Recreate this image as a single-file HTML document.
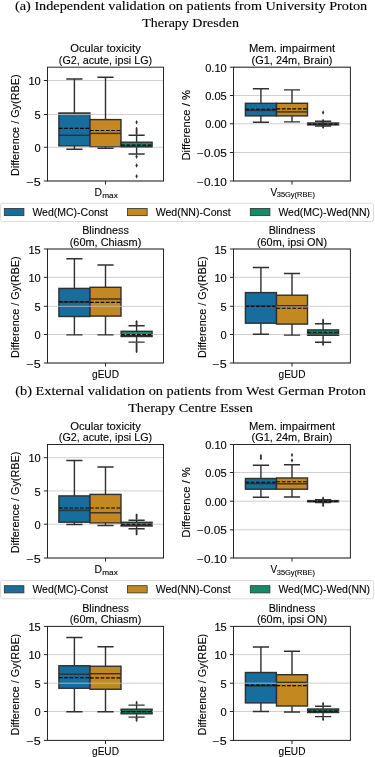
<!DOCTYPE html><html><head><meta charset="utf-8"><style>html,body{margin:0;padding:0;background:#fff;}svg{display:block;will-change:transform}</style></head><body>
<svg width="375" height="757" viewBox="0 0 375 757">
<rect width="375" height="757" fill="#fff"/>
<text x="191.1" y="9.7" font-size="13.4" text-anchor="middle" font-family="Liberation Serif, serif" textLength="352.11" lengthAdjust="spacingAndGlyphs" stroke="#000" stroke-width="0.12">(a) Independent validation on patients from University Proton</text>
<text x="190.6" y="26.8" font-size="13.4" text-anchor="middle" font-family="Liberation Serif, serif" textLength="96.66" lengthAdjust="spacingAndGlyphs" stroke="#000" stroke-width="0.12">Therapy Dresden</text>
<rect x="58.90" y="113.0" width="31.0" height="32.90" fill="#176d9c" stroke="#303030" stroke-width="1.4"/>
<rect x="90.00" y="119.6" width="31.0" height="27.20" fill="#c38820" stroke="#303030" stroke-width="1.4"/>
<rect x="121.10" y="142.2" width="31.0" height="5.00" fill="#158b6a" stroke="#303030" stroke-width="1.4"/>
<path d="M47.5 181.00H163.5" stroke="#c4c4c4" stroke-width="0.8"/>
<path d="M47.5 147.30H163.5" stroke="#c4c4c4" stroke-width="0.8"/>
<path d="M47.5 114.50H163.5" stroke="#c4c4c4" stroke-width="0.8"/>
<path d="M47.5 80.50H163.5" stroke="#c4c4c4" stroke-width="0.8"/>
<path d="M74.40 113.0V79M74.40 145.9V149.3" stroke="#303030" stroke-width="1.4" fill="none"/>
<path d="M66.30 79H82.50M66.30 149.3H82.50" stroke="#303030" stroke-width="1.4" fill="none"/>
<path d="M58.90 135.3H89.90" stroke="#303030" stroke-width="1.4"/>
<path d="M58.90 128.4H89.90" stroke="#000" stroke-width="1.1" stroke-dasharray="3.7 1.6"/>
<path d="M105.50 119.6V77.25M105.50 146.8V148.25" stroke="#303030" stroke-width="1.4" fill="none"/>
<path d="M97.40 77.25H113.60M97.40 148.25H113.60" stroke="#303030" stroke-width="1.4" fill="none"/>
<path d="M90.00 133.4H121.00" stroke="#303030" stroke-width="1.4"/>
<path d="M90.00 130.5H121.00" stroke="#000" stroke-width="1.1" stroke-dasharray="3.7 1.6"/>
<path d="M136.60 142.2V135.2M136.60 147.2V154" stroke="#303030" stroke-width="1.4" fill="none"/>
<path d="M128.50 135.2H144.70M128.50 154H144.70" stroke="#303030" stroke-width="1.4" fill="none"/>
<path d="M121.10 146.5H152.10" stroke="#303030" stroke-width="1.4"/>
<path d="M121.10 145.1H152.10" stroke="#000" stroke-width="1.1" stroke-dasharray="3.7 1.6"/>
<path d="M136.60 120.00L137.75 122.30L136.60 124.60L135.45 122.30Z" fill="#303030"/>
<path d="M136.60 126.70L137.50 127.90V133.90L136.60 135.10L135.70 133.90V127.90Z" fill="#303030"/>
<path d="M136.60 154.30L137.75 156.60L136.60 158.90L135.45 156.60Z" fill="#303030"/>
<path d="M136.60 163.10L137.75 165.40L136.60 167.70L135.45 165.40Z" fill="#303030"/>
<path d="M136.60 173.90L137.75 176.20L136.60 178.50L135.45 176.20Z" fill="#303030"/>
<rect x="47.5" y="67.2" width="116.00" height="113.80" fill="none" stroke="#262626" stroke-width="1"/>
<path d="M43.90 181.00H47.5" stroke="#262626" stroke-width="1"/>
<text x="40.80" y="185.60" font-size="10" text-anchor="end" font-family="Liberation Sans, sans-serif" stroke="#000" stroke-width="0.1" textLength="14.3" lengthAdjust="spacingAndGlyphs" >−5</text>
<path d="M43.90 147.30H47.5" stroke="#262626" stroke-width="1"/>
<text x="40.80" y="151.90" font-size="10" text-anchor="end" font-family="Liberation Sans, sans-serif" stroke="#000" stroke-width="0.1" textLength="6.17" lengthAdjust="spacingAndGlyphs" >0</text>
<path d="M43.90 114.50H47.5" stroke="#262626" stroke-width="1"/>
<text x="40.80" y="119.10" font-size="10" text-anchor="end" font-family="Liberation Sans, sans-serif" stroke="#000" stroke-width="0.1" textLength="6.17" lengthAdjust="spacingAndGlyphs" >5</text>
<path d="M43.90 80.50H47.5" stroke="#262626" stroke-width="1"/>
<text x="40.80" y="85.10" font-size="10" text-anchor="end" font-family="Liberation Sans, sans-serif" stroke="#000" stroke-width="0.1" textLength="12.34" lengthAdjust="spacingAndGlyphs" >10</text>
<path d="M105.50 181.0V184.60" stroke="#262626" stroke-width="1"/>
<text transform="translate(19.40 125.30) rotate(-90)" x="0" y="0" font-size="10" text-anchor="middle" font-family="Liberation Sans, sans-serif" stroke="#000" stroke-width="0.1" textLength="101.65" lengthAdjust="spacingAndGlyphs">Difference / Gy(RBE)</text>
<text x="105.50" y="52.40" font-size="10" text-anchor="middle" font-family="Liberation Sans, sans-serif" stroke="#000" stroke-width="0.1" textLength="70.57" lengthAdjust="spacingAndGlyphs" >Ocular toxicity</text>
<text x="105.50" y="64.00" font-size="10" text-anchor="middle" font-family="Liberation Sans, sans-serif" stroke="#000" stroke-width="0.1" textLength="93.39" lengthAdjust="spacingAndGlyphs" >(G2, acute, ipsi LG)</text>
<text x="94.60" y="196.1" font-size="10" font-family="Liberation Sans, sans-serif" stroke="#000" stroke-width="0.1" textLength="7.47" lengthAdjust="spacingAndGlyphs">D</text><text x="102.20" y="197.6" font-size="7" font-family="Liberation Sans, sans-serif" stroke="#000" stroke-width="0.1" textLength="15.59" lengthAdjust="spacingAndGlyphs">max</text>
<rect x="245.40" y="103.3" width="31.0" height="12.60" fill="#176d9c" stroke="#303030" stroke-width="1.4"/>
<rect x="276.50" y="103.3" width="31.0" height="12.60" fill="#c38820" stroke="#303030" stroke-width="1.4"/>
<rect x="307.60" y="123.0" width="31.0" height="1.90" fill="#158b6a" stroke="#303030" stroke-width="1.4"/>
<path d="M233.5 181.00H350.4" stroke="#c4c4c4" stroke-width="0.8"/>
<path d="M233.5 152.50H350.4" stroke="#c4c4c4" stroke-width="0.8"/>
<path d="M233.5 123.80H350.4" stroke="#c4c4c4" stroke-width="0.8"/>
<path d="M233.5 95.50H350.4" stroke="#c4c4c4" stroke-width="0.8"/>
<path d="M233.5 67.20H350.4" stroke="#c4c4c4" stroke-width="0.8"/>
<path d="M260.90 103.3V88.8M260.90 115.9V122.2" stroke="#303030" stroke-width="1.4" fill="none"/>
<path d="M252.80 88.8H269.00M252.80 122.2H269.00" stroke="#303030" stroke-width="1.4" fill="none"/>
<path d="M245.40 110.4H276.40" stroke="#303030" stroke-width="1.4"/>
<path d="M245.40 109.3H276.40" stroke="#000" stroke-width="1.1" stroke-dasharray="3.7 1.6"/>
<path d="M292.00 103.3V89.9M292.00 115.9V121.9" stroke="#303030" stroke-width="1.4" fill="none"/>
<path d="M283.90 89.9H300.10M283.90 121.9H300.10" stroke="#303030" stroke-width="1.4" fill="none"/>
<path d="M276.50 111.9H307.50" stroke="#303030" stroke-width="1.4"/>
<path d="M276.50 108.9H307.50" stroke="#000" stroke-width="1.1" stroke-dasharray="3.7 1.6"/>
<path d="M323.10 123.0V121.3M323.10 124.9V126.0" stroke="#303030" stroke-width="1.4" fill="none"/>
<path d="M315.00 121.3H331.20M315.00 126.0H331.20" stroke="#303030" stroke-width="1.4" fill="none"/>
<path d="M307.60 124.0H338.60" stroke="#303030" stroke-width="1.4"/>
<path d="M307.60 124.0H338.60" stroke="#000" stroke-width="1.1" stroke-dasharray="3.7 1.6"/>
<path d="M323.10 110.20L324.25 112.50L323.10 114.80L321.95 112.50Z" fill="#303030"/>
<path d="M323.10 118.80L324.00 120.00V127.80L323.10 129.00L322.20 127.80V120.00Z" fill="#303030"/>
<rect x="233.5" y="67.2" width="116.90" height="113.80" fill="none" stroke="#262626" stroke-width="1"/>
<path d="M229.90 181.00H233.5" stroke="#262626" stroke-width="1"/>
<text x="226.80" y="185.60" font-size="10" text-anchor="end" font-family="Liberation Sans, sans-serif" stroke="#000" stroke-width="0.1" textLength="29.73" lengthAdjust="spacingAndGlyphs" >−0.10</text>
<path d="M229.90 152.50H233.5" stroke="#262626" stroke-width="1"/>
<text x="226.80" y="157.10" font-size="10" text-anchor="end" font-family="Liberation Sans, sans-serif" stroke="#000" stroke-width="0.1" textLength="29.73" lengthAdjust="spacingAndGlyphs" >−0.05</text>
<path d="M229.90 123.80H233.5" stroke="#262626" stroke-width="1"/>
<text x="226.80" y="128.40" font-size="10" text-anchor="end" font-family="Liberation Sans, sans-serif" stroke="#000" stroke-width="0.1" textLength="21.6" lengthAdjust="spacingAndGlyphs" >0.00</text>
<path d="M229.90 95.50H233.5" stroke="#262626" stroke-width="1"/>
<text x="226.80" y="100.10" font-size="10" text-anchor="end" font-family="Liberation Sans, sans-serif" stroke="#000" stroke-width="0.1" textLength="21.6" lengthAdjust="spacingAndGlyphs" >0.05</text>
<path d="M229.90 67.20H233.5" stroke="#262626" stroke-width="1"/>
<text x="226.80" y="71.80" font-size="10" text-anchor="end" font-family="Liberation Sans, sans-serif" stroke="#000" stroke-width="0.1" textLength="21.6" lengthAdjust="spacingAndGlyphs" >0.10</text>
<path d="M292.00 181.0V184.60" stroke="#262626" stroke-width="1"/>
<text transform="translate(190.40 125.30) rotate(-90)" x="0" y="0" font-size="10" text-anchor="middle" font-family="Liberation Sans, sans-serif" stroke="#000" stroke-width="0.1" textLength="70.52" lengthAdjust="spacingAndGlyphs">Difference / %</text>
<text x="292.00" y="52.40" font-size="10" text-anchor="middle" font-family="Liberation Sans, sans-serif" stroke="#000" stroke-width="0.1" textLength="86.25" lengthAdjust="spacingAndGlyphs" >Mem. impairment</text>
<text x="292.00" y="64.00" font-size="10" text-anchor="middle" font-family="Liberation Sans, sans-serif" stroke="#000" stroke-width="0.1" textLength="80.81" lengthAdjust="spacingAndGlyphs" >(G1, 24m, Brain)</text>
<text x="270.40" y="195.9" font-size="10" font-family="Liberation Sans, sans-serif" stroke="#000" stroke-width="0.1" textLength="6.64" lengthAdjust="spacingAndGlyphs">V</text><text x="276.80" y="197.20000000000002" font-size="7" font-family="Liberation Sans, sans-serif" stroke="#000" stroke-width="0.1" textLength="38.08" lengthAdjust="spacingAndGlyphs">35Gy(RBE)</text>
<rect x="0.5" y="203.25" width="373" height="18.3" rx="2" ry="2" fill="#fff" stroke="#dcdcdc" stroke-width="1"/>
<rect x="4.30" y="208.45" width="19.6" height="7.2" fill="#176d9c" stroke="#303030" stroke-width="0.8"/>
<text x="32.4" y="215.75" font-size="10" text-anchor="start" font-family="Liberation Sans, sans-serif" stroke="#000" stroke-width="0.1" textLength="75.64" lengthAdjust="spacingAndGlyphs" >Wed(MC)-Const</text>
<rect x="127.55" y="208.45" width="19.6" height="7.2" fill="#c38820" stroke="#303030" stroke-width="0.8"/>
<text x="155.65" y="215.75" font-size="10" text-anchor="start" font-family="Liberation Sans, sans-serif" stroke="#000" stroke-width="0.1" textLength="75.01" lengthAdjust="spacingAndGlyphs" >Wed(NN)-Const</text>
<rect x="250.30" y="208.45" width="19.6" height="7.2" fill="#158b6a" stroke="#303030" stroke-width="0.8"/>
<text x="278.4" y="215.75" font-size="10" text-anchor="start" font-family="Liberation Sans, sans-serif" stroke="#000" stroke-width="0.1" textLength="91.72" lengthAdjust="spacingAndGlyphs" >Wed(MC)-Wed(NN)</text>
<rect x="58.90" y="288.4" width="31.0" height="28.10" fill="#176d9c" stroke="#303030" stroke-width="1.4"/>
<rect x="90.00" y="287.3" width="31.0" height="28.80" fill="#c38820" stroke="#303030" stroke-width="1.4"/>
<rect x="121.10" y="331.3" width="31.0" height="5.20" fill="#158b6a" stroke="#303030" stroke-width="1.4"/>
<path d="M47.5 363.00H163.5" stroke="#c4c4c4" stroke-width="0.8"/>
<path d="M47.5 334.50H163.5" stroke="#c4c4c4" stroke-width="0.8"/>
<path d="M47.5 306.30H163.5" stroke="#c4c4c4" stroke-width="0.8"/>
<path d="M47.5 277.30H163.5" stroke="#c4c4c4" stroke-width="0.8"/>
<path d="M47.5 249.00H163.5" stroke="#c4c4c4" stroke-width="0.8"/>
<path d="M74.40 288.4V258.75M74.40 316.5V334.9" stroke="#303030" stroke-width="1.4" fill="none"/>
<path d="M66.30 258.75H82.50M66.30 334.9H82.50" stroke="#303030" stroke-width="1.4" fill="none"/>
<path d="M58.90 302.2H89.90" stroke="#303030" stroke-width="1.4"/>
<path d="M58.90 301.8H89.90" stroke="#000" stroke-width="1.1" stroke-dasharray="3.7 1.6"/>
<path d="M105.50 287.3V265M105.50 316.1V334.9" stroke="#303030" stroke-width="1.4" fill="none"/>
<path d="M97.40 265H113.60M97.40 334.9H113.60" stroke="#303030" stroke-width="1.4" fill="none"/>
<path d="M90.00 299.0H121.00" stroke="#303030" stroke-width="1.4"/>
<path d="M90.00 302.4H121.00" stroke="#000" stroke-width="1.1" stroke-dasharray="3.7 1.6"/>
<path d="M136.60 331.3V325.7M136.60 336.5V342.1" stroke="#303030" stroke-width="1.4" fill="none"/>
<path d="M128.50 325.7H144.70M128.50 342.1H144.70" stroke="#303030" stroke-width="1.4" fill="none"/>
<path d="M121.10 335.6H152.10" stroke="#303030" stroke-width="1.4"/>
<path d="M121.10 334.6H152.10" stroke="#000" stroke-width="1.1" stroke-dasharray="3.7 1.6"/>
<path d="M136.60 320.10L137.50 321.30V324.60L136.60 325.80L135.70 324.60V321.30Z" fill="#303030"/>
<path d="M136.60 342.20L137.50 343.40V352.10L136.60 353.30L135.70 352.10V343.40Z" fill="#303030"/>
<rect x="47.5" y="249.0" width="116.00" height="114.00" fill="none" stroke="#262626" stroke-width="1"/>
<path d="M43.90 363.00H47.5" stroke="#262626" stroke-width="1"/>
<text x="40.80" y="367.60" font-size="10" text-anchor="end" font-family="Liberation Sans, sans-serif" stroke="#000" stroke-width="0.1" textLength="14.3" lengthAdjust="spacingAndGlyphs" >−5</text>
<path d="M43.90 334.50H47.5" stroke="#262626" stroke-width="1"/>
<text x="40.80" y="339.10" font-size="10" text-anchor="end" font-family="Liberation Sans, sans-serif" stroke="#000" stroke-width="0.1" textLength="6.17" lengthAdjust="spacingAndGlyphs" >0</text>
<path d="M43.90 306.30H47.5" stroke="#262626" stroke-width="1"/>
<text x="40.80" y="310.90" font-size="10" text-anchor="end" font-family="Liberation Sans, sans-serif" stroke="#000" stroke-width="0.1" textLength="6.17" lengthAdjust="spacingAndGlyphs" >5</text>
<path d="M43.90 277.30H47.5" stroke="#262626" stroke-width="1"/>
<text x="40.80" y="281.90" font-size="10" text-anchor="end" font-family="Liberation Sans, sans-serif" stroke="#000" stroke-width="0.1" textLength="12.34" lengthAdjust="spacingAndGlyphs" >10</text>
<path d="M43.90 249.00H47.5" stroke="#262626" stroke-width="1"/>
<text x="40.80" y="253.60" font-size="10" text-anchor="end" font-family="Liberation Sans, sans-serif" stroke="#000" stroke-width="0.1" textLength="12.34" lengthAdjust="spacingAndGlyphs" >15</text>
<path d="M105.50 363.0V366.60" stroke="#262626" stroke-width="1"/>
<text transform="translate(19.40 307.20) rotate(-90)" x="0" y="0" font-size="10" text-anchor="middle" font-family="Liberation Sans, sans-serif" stroke="#000" stroke-width="0.1" textLength="101.65" lengthAdjust="spacingAndGlyphs">Difference / Gy(RBE)</text>
<text x="105.50" y="234.20" font-size="10" text-anchor="middle" font-family="Liberation Sans, sans-serif" stroke="#000" stroke-width="0.1" textLength="46.57" lengthAdjust="spacingAndGlyphs" >Blindness</text>
<text x="105.50" y="245.80" font-size="10" text-anchor="middle" font-family="Liberation Sans, sans-serif" stroke="#000" stroke-width="0.1" textLength="71.59" lengthAdjust="spacingAndGlyphs" >(60m, Chiasm)</text>
<text x="105.50" y="377.8" font-size="10" text-anchor="middle" font-family="Liberation Sans, sans-serif" stroke="#000" stroke-width="0.1" textLength="26.85" lengthAdjust="spacingAndGlyphs">gEUD</text>
<rect x="245.40" y="292.6" width="31.0" height="30.60" fill="#176d9c" stroke="#303030" stroke-width="1.4"/>
<rect x="276.50" y="295.2" width="31.0" height="28.90" fill="#c38820" stroke="#303030" stroke-width="1.4"/>
<rect x="307.60" y="329.9" width="31.0" height="5.40" fill="#158b6a" stroke="#303030" stroke-width="1.4"/>
<path d="M233.5 363.00H350.4" stroke="#c4c4c4" stroke-width="0.8"/>
<path d="M233.5 334.50H350.4" stroke="#c4c4c4" stroke-width="0.8"/>
<path d="M233.5 306.30H350.4" stroke="#c4c4c4" stroke-width="0.8"/>
<path d="M233.5 277.30H350.4" stroke="#c4c4c4" stroke-width="0.8"/>
<path d="M233.5 249.00H350.4" stroke="#c4c4c4" stroke-width="0.8"/>
<path d="M260.90 292.6V267.5M260.90 323.2V334.2" stroke="#303030" stroke-width="1.4" fill="none"/>
<path d="M252.80 267.5H269.00M252.80 334.2H269.00" stroke="#303030" stroke-width="1.4" fill="none"/>
<path d="M245.40 306.0H276.40" stroke="#303030" stroke-width="1.4"/>
<path d="M245.40 306.2H276.40" stroke="#000" stroke-width="1.1" stroke-dasharray="3.7 1.6"/>
<path d="M292.00 295.2V273.5M292.00 324.1V335.1" stroke="#303030" stroke-width="1.4" fill="none"/>
<path d="M283.90 273.5H300.10M283.90 335.1H300.10" stroke="#303030" stroke-width="1.4" fill="none"/>
<path d="M276.50 305.7H307.50" stroke="#303030" stroke-width="1.4"/>
<path d="M276.50 308.3H307.50" stroke="#000" stroke-width="1.1" stroke-dasharray="3.7 1.6"/>
<path d="M323.10 329.9V323.7M323.10 335.3V342.2" stroke="#303030" stroke-width="1.4" fill="none"/>
<path d="M315.00 323.7H331.20M315.00 342.2H331.20" stroke="#303030" stroke-width="1.4" fill="none"/>
<path d="M307.60 334.0H338.60" stroke="#303030" stroke-width="1.4"/>
<path d="M307.60 332.2H338.60" stroke="#000" stroke-width="1.1" stroke-dasharray="3.7 1.6"/>
<path d="M323.10 318.40L324.00 319.60V322.60L323.10 323.80L322.20 322.60V319.60Z" fill="#303030"/>
<path d="M323.10 341.70L324.25 344.00L323.10 346.30L321.95 344.00Z" fill="#303030"/>
<rect x="233.5" y="249.0" width="116.90" height="114.00" fill="none" stroke="#262626" stroke-width="1"/>
<path d="M229.90 363.00H233.5" stroke="#262626" stroke-width="1"/>
<text x="226.80" y="367.60" font-size="10" text-anchor="end" font-family="Liberation Sans, sans-serif" stroke="#000" stroke-width="0.1" textLength="14.3" lengthAdjust="spacingAndGlyphs" >−5</text>
<path d="M229.90 334.50H233.5" stroke="#262626" stroke-width="1"/>
<text x="226.80" y="339.10" font-size="10" text-anchor="end" font-family="Liberation Sans, sans-serif" stroke="#000" stroke-width="0.1" textLength="6.17" lengthAdjust="spacingAndGlyphs" >0</text>
<path d="M229.90 306.30H233.5" stroke="#262626" stroke-width="1"/>
<text x="226.80" y="310.90" font-size="10" text-anchor="end" font-family="Liberation Sans, sans-serif" stroke="#000" stroke-width="0.1" textLength="6.17" lengthAdjust="spacingAndGlyphs" >5</text>
<path d="M229.90 277.30H233.5" stroke="#262626" stroke-width="1"/>
<text x="226.80" y="281.90" font-size="10" text-anchor="end" font-family="Liberation Sans, sans-serif" stroke="#000" stroke-width="0.1" textLength="12.34" lengthAdjust="spacingAndGlyphs" >10</text>
<path d="M229.90 249.00H233.5" stroke="#262626" stroke-width="1"/>
<text x="226.80" y="253.60" font-size="10" text-anchor="end" font-family="Liberation Sans, sans-serif" stroke="#000" stroke-width="0.1" textLength="12.34" lengthAdjust="spacingAndGlyphs" >15</text>
<path d="M292.00 363.0V366.60" stroke="#262626" stroke-width="1"/>
<text transform="translate(205.90 307.20) rotate(-90)" x="0" y="0" font-size="10" text-anchor="middle" font-family="Liberation Sans, sans-serif" stroke="#000" stroke-width="0.1" textLength="101.65" lengthAdjust="spacingAndGlyphs">Difference / Gy(RBE)</text>
<text x="292.00" y="234.20" font-size="10" text-anchor="middle" font-family="Liberation Sans, sans-serif" stroke="#000" stroke-width="0.1" textLength="46.57" lengthAdjust="spacingAndGlyphs" >Blindness</text>
<text x="292.00" y="245.80" font-size="10" text-anchor="middle" font-family="Liberation Sans, sans-serif" stroke="#000" stroke-width="0.1" textLength="70.1" lengthAdjust="spacingAndGlyphs" >(60m, ipsi ON)</text>
<text x="292.00" y="377.8" font-size="10" text-anchor="middle" font-family="Liberation Sans, sans-serif" stroke="#000" stroke-width="0.1" textLength="26.85" lengthAdjust="spacingAndGlyphs">gEUD</text>
<text x="190.6" y="394.6" font-size="13.4" text-anchor="middle" font-family="Liberation Serif, serif" textLength="350.69" lengthAdjust="spacingAndGlyphs" stroke="#000" stroke-width="0.12">(b) External validation on patients from West German Proton</text>
<text x="190.6" y="411.9" font-size="13.4" text-anchor="middle" font-family="Liberation Serif, serif" textLength="124.69" lengthAdjust="spacingAndGlyphs" stroke="#000" stroke-width="0.12">Therapy Centre Essen</text>
<rect x="58.90" y="495.9" width="31.0" height="26.30" fill="#176d9c" stroke="#303030" stroke-width="1.4"/>
<rect x="90.00" y="494.4" width="31.0" height="28.60" fill="#c38820" stroke="#303030" stroke-width="1.4"/>
<rect x="121.10" y="522.3" width="31.0" height="3.70" fill="#158b6a" stroke="#303030" stroke-width="1.4"/>
<path d="M47.5 558.00H163.5" stroke="#c4c4c4" stroke-width="0.8"/>
<path d="M47.5 524.20H163.5" stroke="#c4c4c4" stroke-width="0.8"/>
<path d="M47.5 490.90H163.5" stroke="#c4c4c4" stroke-width="0.8"/>
<path d="M47.5 457.70H163.5" stroke="#c4c4c4" stroke-width="0.8"/>
<path d="M74.40 495.9V460.5M74.40 522.2V524.5" stroke="#303030" stroke-width="1.4" fill="none"/>
<path d="M66.30 460.5H82.50M66.30 524.5H82.50" stroke="#303030" stroke-width="1.4" fill="none"/>
<path d="M58.90 510.4H89.90" stroke="#303030" stroke-width="1.4"/>
<path d="M58.90 508.0H89.90" stroke="#000" stroke-width="1.1" stroke-dasharray="3.7 1.6"/>
<path d="M105.50 494.4V467M105.50 523.0V525.5" stroke="#303030" stroke-width="1.4" fill="none"/>
<path d="M97.40 467H113.60M97.40 525.5H113.60" stroke="#303030" stroke-width="1.4" fill="none"/>
<path d="M90.00 512.8H121.00" stroke="#303030" stroke-width="1.4"/>
<path d="M90.00 508.0H121.00" stroke="#000" stroke-width="1.1" stroke-dasharray="3.7 1.6"/>
<path d="M136.60 522.3V520.3M136.60 526V528.7" stroke="#303030" stroke-width="1.4" fill="none"/>
<path d="M128.50 520.3H144.70M128.50 528.7H144.70" stroke="#303030" stroke-width="1.4" fill="none"/>
<path d="M121.10 525.2H152.10" stroke="#303030" stroke-width="1.4"/>
<path d="M121.10 524.3H152.10" stroke="#000" stroke-width="1.1" stroke-dasharray="3.7 1.6"/>
<path d="M136.60 513.40L137.50 514.60V518.90L136.60 520.10L135.70 518.90V514.60Z" fill="#303030"/>
<path d="M136.60 528.70L137.50 529.90V534.40L136.60 535.60L135.70 534.40V529.90Z" fill="#303030"/>
<rect x="47.5" y="444.5" width="116.00" height="113.50" fill="none" stroke="#262626" stroke-width="1"/>
<path d="M43.90 558.00H47.5" stroke="#262626" stroke-width="1"/>
<text x="40.80" y="562.60" font-size="10" text-anchor="end" font-family="Liberation Sans, sans-serif" stroke="#000" stroke-width="0.1" textLength="14.3" lengthAdjust="spacingAndGlyphs" >−5</text>
<path d="M43.90 524.20H47.5" stroke="#262626" stroke-width="1"/>
<text x="40.80" y="528.80" font-size="10" text-anchor="end" font-family="Liberation Sans, sans-serif" stroke="#000" stroke-width="0.1" textLength="6.17" lengthAdjust="spacingAndGlyphs" >0</text>
<path d="M43.90 490.90H47.5" stroke="#262626" stroke-width="1"/>
<text x="40.80" y="495.50" font-size="10" text-anchor="end" font-family="Liberation Sans, sans-serif" stroke="#000" stroke-width="0.1" textLength="6.17" lengthAdjust="spacingAndGlyphs" >5</text>
<path d="M43.90 457.70H47.5" stroke="#262626" stroke-width="1"/>
<text x="40.80" y="462.30" font-size="10" text-anchor="end" font-family="Liberation Sans, sans-serif" stroke="#000" stroke-width="0.1" textLength="12.34" lengthAdjust="spacingAndGlyphs" >10</text>
<path d="M105.50 558.0V561.60" stroke="#262626" stroke-width="1"/>
<text transform="translate(19.40 502.45) rotate(-90)" x="0" y="0" font-size="10" text-anchor="middle" font-family="Liberation Sans, sans-serif" stroke="#000" stroke-width="0.1" textLength="101.65" lengthAdjust="spacingAndGlyphs">Difference / Gy(RBE)</text>
<text x="105.50" y="429.70" font-size="10" text-anchor="middle" font-family="Liberation Sans, sans-serif" stroke="#000" stroke-width="0.1" textLength="70.57" lengthAdjust="spacingAndGlyphs" >Ocular toxicity</text>
<text x="105.50" y="441.30" font-size="10" text-anchor="middle" font-family="Liberation Sans, sans-serif" stroke="#000" stroke-width="0.1" textLength="93.39" lengthAdjust="spacingAndGlyphs" >(G2, acute, ipsi LG)</text>
<text x="94.60" y="573.4" font-size="10" font-family="Liberation Sans, sans-serif" stroke="#000" stroke-width="0.1" textLength="7.47" lengthAdjust="spacingAndGlyphs">D</text><text x="102.20" y="574.9" font-size="7" font-family="Liberation Sans, sans-serif" stroke="#000" stroke-width="0.1" textLength="15.59" lengthAdjust="spacingAndGlyphs">max</text>
<rect x="245.40" y="478.5" width="31.0" height="10.70" fill="#176d9c" stroke="#303030" stroke-width="1.4"/>
<rect x="276.50" y="478.0" width="31.0" height="11.20" fill="#c38820" stroke="#303030" stroke-width="1.4"/>
<rect x="307.60" y="500.6" width="31.0" height="1.20" fill="#158b6a" stroke="#303030" stroke-width="1.4"/>
<path d="M233.5 558.00H350.4" stroke="#c4c4c4" stroke-width="0.8"/>
<path d="M233.5 529.80H350.4" stroke="#c4c4c4" stroke-width="0.8"/>
<path d="M233.5 501.20H350.4" stroke="#c4c4c4" stroke-width="0.8"/>
<path d="M233.5 472.50H350.4" stroke="#c4c4c4" stroke-width="0.8"/>
<path d="M233.5 444.50H350.4" stroke="#c4c4c4" stroke-width="0.8"/>
<path d="M260.90 478.5V465.2M260.90 489.2V497.2" stroke="#303030" stroke-width="1.4" fill="none"/>
<path d="M252.80 465.2H269.00M252.80 497.2H269.00" stroke="#303030" stroke-width="1.4" fill="none"/>
<path d="M245.40 483.6H276.40" stroke="#303030" stroke-width="1.4"/>
<path d="M245.40 482.3H276.40" stroke="#000" stroke-width="1.1" stroke-dasharray="3.7 1.6"/>
<path d="M260.90 453.70L262.05 456.00L260.90 458.30L259.75 456.00Z" fill="#303030"/>
<path d="M260.90 455.90L262.05 458.20L260.90 460.50L259.75 458.20Z" fill="#303030"/>
<path d="M292.00 478.0V464.7M292.00 489.2V497" stroke="#303030" stroke-width="1.4" fill="none"/>
<path d="M283.90 464.7H300.10M283.90 497H300.10" stroke="#303030" stroke-width="1.4" fill="none"/>
<path d="M276.50 483.8H307.50" stroke="#303030" stroke-width="1.4"/>
<path d="M276.50 481.8H307.50" stroke="#000" stroke-width="1.1" stroke-dasharray="3.7 1.6"/>
<path d="M292.00 452.70L293.15 455.00L292.00 457.30L290.85 455.00Z" fill="#303030"/>
<path d="M292.00 458.10L293.15 460.40L292.00 462.70L290.85 460.40Z" fill="#303030"/>
<path d="M323.10 500.6V499.8M323.10 501.8V502.6" stroke="#303030" stroke-width="1.4" fill="none"/>
<path d="M315.00 499.8H331.20M315.00 502.6H331.20" stroke="#303030" stroke-width="1.4" fill="none"/>
<path d="M307.60 501.2H338.60" stroke="#303030" stroke-width="1.4"/>
<path d="M307.60 501.2H338.60" stroke="#000" stroke-width="1.1" stroke-dasharray="3.7 1.6"/>
<path d="M323.10 496.40L324.00 497.60V506.10L323.10 507.30L322.20 506.10V497.60Z" fill="#303030"/>
<rect x="233.5" y="444.5" width="116.90" height="113.50" fill="none" stroke="#262626" stroke-width="1"/>
<path d="M229.90 558.00H233.5" stroke="#262626" stroke-width="1"/>
<text x="226.80" y="562.60" font-size="10" text-anchor="end" font-family="Liberation Sans, sans-serif" stroke="#000" stroke-width="0.1" textLength="29.73" lengthAdjust="spacingAndGlyphs" >−0.10</text>
<path d="M229.90 529.80H233.5" stroke="#262626" stroke-width="1"/>
<text x="226.80" y="534.40" font-size="10" text-anchor="end" font-family="Liberation Sans, sans-serif" stroke="#000" stroke-width="0.1" textLength="29.73" lengthAdjust="spacingAndGlyphs" >−0.05</text>
<path d="M229.90 501.20H233.5" stroke="#262626" stroke-width="1"/>
<text x="226.80" y="505.80" font-size="10" text-anchor="end" font-family="Liberation Sans, sans-serif" stroke="#000" stroke-width="0.1" textLength="21.6" lengthAdjust="spacingAndGlyphs" >0.00</text>
<path d="M229.90 472.50H233.5" stroke="#262626" stroke-width="1"/>
<text x="226.80" y="477.10" font-size="10" text-anchor="end" font-family="Liberation Sans, sans-serif" stroke="#000" stroke-width="0.1" textLength="21.6" lengthAdjust="spacingAndGlyphs" >0.05</text>
<path d="M229.90 444.50H233.5" stroke="#262626" stroke-width="1"/>
<text x="226.80" y="449.10" font-size="10" text-anchor="end" font-family="Liberation Sans, sans-serif" stroke="#000" stroke-width="0.1" textLength="21.6" lengthAdjust="spacingAndGlyphs" >0.10</text>
<path d="M292.00 558.0V561.60" stroke="#262626" stroke-width="1"/>
<text transform="translate(190.40 502.45) rotate(-90)" x="0" y="0" font-size="10" text-anchor="middle" font-family="Liberation Sans, sans-serif" stroke="#000" stroke-width="0.1" textLength="70.52" lengthAdjust="spacingAndGlyphs">Difference / %</text>
<text x="292.00" y="429.70" font-size="10" text-anchor="middle" font-family="Liberation Sans, sans-serif" stroke="#000" stroke-width="0.1" textLength="86.25" lengthAdjust="spacingAndGlyphs" >Mem. impairment</text>
<text x="292.00" y="441.30" font-size="10" text-anchor="middle" font-family="Liberation Sans, sans-serif" stroke="#000" stroke-width="0.1" textLength="80.81" lengthAdjust="spacingAndGlyphs" >(G1, 24m, Brain)</text>
<text x="270.40" y="573.2" font-size="10" font-family="Liberation Sans, sans-serif" stroke="#000" stroke-width="0.1" textLength="6.64" lengthAdjust="spacingAndGlyphs">V</text><text x="276.80" y="574.5" font-size="7" font-family="Liberation Sans, sans-serif" stroke="#000" stroke-width="0.1" textLength="38.08" lengthAdjust="spacingAndGlyphs">35Gy(RBE)</text>
<rect x="0.5" y="580.5" width="373" height="18.3" rx="2" ry="2" fill="#fff" stroke="#dcdcdc" stroke-width="1"/>
<rect x="4.30" y="585.70" width="19.6" height="7.2" fill="#176d9c" stroke="#303030" stroke-width="0.8"/>
<text x="32.4" y="593.0" font-size="10" text-anchor="start" font-family="Liberation Sans, sans-serif" stroke="#000" stroke-width="0.1" textLength="75.64" lengthAdjust="spacingAndGlyphs" >Wed(MC)-Const</text>
<rect x="127.55" y="585.70" width="19.6" height="7.2" fill="#c38820" stroke="#303030" stroke-width="0.8"/>
<text x="155.65" y="593.0" font-size="10" text-anchor="start" font-family="Liberation Sans, sans-serif" stroke="#000" stroke-width="0.1" textLength="75.01" lengthAdjust="spacingAndGlyphs" >Wed(NN)-Const</text>
<rect x="250.30" y="585.70" width="19.6" height="7.2" fill="#158b6a" stroke="#303030" stroke-width="0.8"/>
<text x="278.4" y="593.0" font-size="10" text-anchor="start" font-family="Liberation Sans, sans-serif" stroke="#000" stroke-width="0.1" textLength="91.72" lengthAdjust="spacingAndGlyphs" >Wed(MC)-Wed(NN)</text>
<rect x="58.90" y="665.75" width="31.0" height="22.50" fill="#176d9c" stroke="#303030" stroke-width="1.4"/>
<rect x="90.00" y="666.25" width="31.0" height="23.00" fill="#c38820" stroke="#303030" stroke-width="1.4"/>
<rect x="121.10" y="709.2" width="31.0" height="4.60" fill="#158b6a" stroke="#303030" stroke-width="1.4"/>
<path d="M47.5 740.40H163.5" stroke="#c4c4c4" stroke-width="0.8"/>
<path d="M47.5 711.50H163.5" stroke="#c4c4c4" stroke-width="0.8"/>
<path d="M47.5 683.20H163.5" stroke="#c4c4c4" stroke-width="0.8"/>
<path d="M47.5 654.60H163.5" stroke="#c4c4c4" stroke-width="0.8"/>
<path d="M47.5 626.40H163.5" stroke="#c4c4c4" stroke-width="0.8"/>
<path d="M74.40 665.75V637.5M74.40 688.25V711.7" stroke="#303030" stroke-width="1.4" fill="none"/>
<path d="M66.30 637.5H82.50M66.30 711.7H82.50" stroke="#303030" stroke-width="1.4" fill="none"/>
<path d="M58.90 674.2H89.90" stroke="#303030" stroke-width="1.4"/>
<path d="M58.90 677.6H89.90" stroke="#000" stroke-width="1.1" stroke-dasharray="3.7 1.6"/>
<path d="M105.50 666.25V646.75M105.50 689.25V711.7" stroke="#303030" stroke-width="1.4" fill="none"/>
<path d="M97.40 646.75H113.60M97.40 711.7H113.60" stroke="#303030" stroke-width="1.4" fill="none"/>
<path d="M90.00 673.7H121.00" stroke="#303030" stroke-width="1.4"/>
<path d="M90.00 677.9H121.00" stroke="#000" stroke-width="1.1" stroke-dasharray="3.7 1.6"/>
<path d="M136.60 709.2V705.1M136.60 713.8V717.1" stroke="#303030" stroke-width="1.4" fill="none"/>
<path d="M128.50 705.1H144.70M128.50 717.1H144.70" stroke="#303030" stroke-width="1.4" fill="none"/>
<path d="M121.10 711.5H152.10" stroke="#303030" stroke-width="1.4"/>
<path d="M121.10 711.6H152.10" stroke="#000" stroke-width="1.1" stroke-dasharray="3.7 1.6"/>
<path d="M136.60 700.80L137.50 702.00V703.90L136.60 705.10L135.70 703.90V702.00Z" fill="#303030"/>
<path d="M136.60 717.10L137.50 718.30V720.70L136.60 721.90L135.70 720.70V718.30Z" fill="#303030"/>
<rect x="47.5" y="626.4" width="116.00" height="114.00" fill="none" stroke="#262626" stroke-width="1"/>
<path d="M43.90 740.40H47.5" stroke="#262626" stroke-width="1"/>
<text x="40.80" y="745.00" font-size="10" text-anchor="end" font-family="Liberation Sans, sans-serif" stroke="#000" stroke-width="0.1" textLength="14.3" lengthAdjust="spacingAndGlyphs" >−5</text>
<path d="M43.90 711.50H47.5" stroke="#262626" stroke-width="1"/>
<text x="40.80" y="716.10" font-size="10" text-anchor="end" font-family="Liberation Sans, sans-serif" stroke="#000" stroke-width="0.1" textLength="6.17" lengthAdjust="spacingAndGlyphs" >0</text>
<path d="M43.90 683.20H47.5" stroke="#262626" stroke-width="1"/>
<text x="40.80" y="687.80" font-size="10" text-anchor="end" font-family="Liberation Sans, sans-serif" stroke="#000" stroke-width="0.1" textLength="6.17" lengthAdjust="spacingAndGlyphs" >5</text>
<path d="M43.90 654.60H47.5" stroke="#262626" stroke-width="1"/>
<text x="40.80" y="659.20" font-size="10" text-anchor="end" font-family="Liberation Sans, sans-serif" stroke="#000" stroke-width="0.1" textLength="12.34" lengthAdjust="spacingAndGlyphs" >10</text>
<path d="M43.90 626.40H47.5" stroke="#262626" stroke-width="1"/>
<text x="40.80" y="631.00" font-size="10" text-anchor="end" font-family="Liberation Sans, sans-serif" stroke="#000" stroke-width="0.1" textLength="12.34" lengthAdjust="spacingAndGlyphs" >15</text>
<path d="M105.50 740.4V744.00" stroke="#262626" stroke-width="1"/>
<text transform="translate(19.40 684.60) rotate(-90)" x="0" y="0" font-size="10" text-anchor="middle" font-family="Liberation Sans, sans-serif" stroke="#000" stroke-width="0.1" textLength="101.65" lengthAdjust="spacingAndGlyphs">Difference / Gy(RBE)</text>
<text x="105.50" y="611.60" font-size="10" text-anchor="middle" font-family="Liberation Sans, sans-serif" stroke="#000" stroke-width="0.1" textLength="46.57" lengthAdjust="spacingAndGlyphs" >Blindness</text>
<text x="105.50" y="623.20" font-size="10" text-anchor="middle" font-family="Liberation Sans, sans-serif" stroke="#000" stroke-width="0.1" textLength="71.59" lengthAdjust="spacingAndGlyphs" >(60m, Chiasm)</text>
<text x="105.50" y="755.2" font-size="10" text-anchor="middle" font-family="Liberation Sans, sans-serif" stroke="#000" stroke-width="0.1" textLength="26.85" lengthAdjust="spacingAndGlyphs">gEUD</text>
<rect x="245.40" y="672.5" width="31.0" height="30.40" fill="#176d9c" stroke="#303030" stroke-width="1.4"/>
<rect x="276.50" y="674.7" width="31.0" height="31.30" fill="#c38820" stroke="#303030" stroke-width="1.4"/>
<rect x="307.60" y="709.0" width="31.0" height="3.50" fill="#158b6a" stroke="#303030" stroke-width="1.4"/>
<path d="M233.5 740.40H350.4" stroke="#c4c4c4" stroke-width="0.8"/>
<path d="M233.5 711.50H350.4" stroke="#c4c4c4" stroke-width="0.8"/>
<path d="M233.5 683.20H350.4" stroke="#c4c4c4" stroke-width="0.8"/>
<path d="M233.5 654.60H350.4" stroke="#c4c4c4" stroke-width="0.8"/>
<path d="M233.5 626.40H350.4" stroke="#c4c4c4" stroke-width="0.8"/>
<path d="M260.90 672.5V647M260.90 702.9V711.5" stroke="#303030" stroke-width="1.4" fill="none"/>
<path d="M252.80 647H269.00M252.80 711.5H269.00" stroke="#303030" stroke-width="1.4" fill="none"/>
<path d="M245.40 685.9H276.40" stroke="#303030" stroke-width="1.4"/>
<path d="M245.40 685.1H276.40" stroke="#000" stroke-width="1.1" stroke-dasharray="3.7 1.6"/>
<path d="M292.00 674.7V651.25M292.00 706.0V712.0" stroke="#303030" stroke-width="1.4" fill="none"/>
<path d="M283.90 651.25H300.10M283.90 712.0H300.10" stroke="#303030" stroke-width="1.4" fill="none"/>
<path d="M276.50 682.4H307.50" stroke="#303030" stroke-width="1.4"/>
<path d="M276.50 685.6H307.50" stroke="#000" stroke-width="1.1" stroke-dasharray="3.7 1.6"/>
<path d="M323.10 709.0V706.2M323.10 712.5V716.6" stroke="#303030" stroke-width="1.4" fill="none"/>
<path d="M315.00 706.2H331.20M315.00 716.6H331.20" stroke="#303030" stroke-width="1.4" fill="none"/>
<path d="M307.60 711.6H338.60" stroke="#303030" stroke-width="1.4"/>
<path d="M307.60 711.0H338.60" stroke="#000" stroke-width="1.1" stroke-dasharray="3.7 1.6"/>
<path d="M323.10 701.90L324.00 703.10V705.10L323.10 706.30L322.20 705.10V703.10Z" fill="#303030"/>
<path d="M323.10 716.60L324.00 717.80V719.90L323.10 721.10L322.20 719.90V717.80Z" fill="#303030"/>
<rect x="233.5" y="626.4" width="116.90" height="114.00" fill="none" stroke="#262626" stroke-width="1"/>
<path d="M229.90 740.40H233.5" stroke="#262626" stroke-width="1"/>
<text x="226.80" y="745.00" font-size="10" text-anchor="end" font-family="Liberation Sans, sans-serif" stroke="#000" stroke-width="0.1" textLength="14.3" lengthAdjust="spacingAndGlyphs" >−5</text>
<path d="M229.90 711.50H233.5" stroke="#262626" stroke-width="1"/>
<text x="226.80" y="716.10" font-size="10" text-anchor="end" font-family="Liberation Sans, sans-serif" stroke="#000" stroke-width="0.1" textLength="6.17" lengthAdjust="spacingAndGlyphs" >0</text>
<path d="M229.90 683.20H233.5" stroke="#262626" stroke-width="1"/>
<text x="226.80" y="687.80" font-size="10" text-anchor="end" font-family="Liberation Sans, sans-serif" stroke="#000" stroke-width="0.1" textLength="6.17" lengthAdjust="spacingAndGlyphs" >5</text>
<path d="M229.90 654.60H233.5" stroke="#262626" stroke-width="1"/>
<text x="226.80" y="659.20" font-size="10" text-anchor="end" font-family="Liberation Sans, sans-serif" stroke="#000" stroke-width="0.1" textLength="12.34" lengthAdjust="spacingAndGlyphs" >10</text>
<path d="M229.90 626.40H233.5" stroke="#262626" stroke-width="1"/>
<text x="226.80" y="631.00" font-size="10" text-anchor="end" font-family="Liberation Sans, sans-serif" stroke="#000" stroke-width="0.1" textLength="12.34" lengthAdjust="spacingAndGlyphs" >15</text>
<path d="M292.00 740.4V744.00" stroke="#262626" stroke-width="1"/>
<text transform="translate(205.90 684.60) rotate(-90)" x="0" y="0" font-size="10" text-anchor="middle" font-family="Liberation Sans, sans-serif" stroke="#000" stroke-width="0.1" textLength="101.65" lengthAdjust="spacingAndGlyphs">Difference / Gy(RBE)</text>
<text x="292.00" y="611.60" font-size="10" text-anchor="middle" font-family="Liberation Sans, sans-serif" stroke="#000" stroke-width="0.1" textLength="46.57" lengthAdjust="spacingAndGlyphs" >Blindness</text>
<text x="292.00" y="623.20" font-size="10" text-anchor="middle" font-family="Liberation Sans, sans-serif" stroke="#000" stroke-width="0.1" textLength="70.1" lengthAdjust="spacingAndGlyphs" >(60m, ipsi ON)</text>
<text x="292.00" y="755.2" font-size="10" text-anchor="middle" font-family="Liberation Sans, sans-serif" stroke="#000" stroke-width="0.1" textLength="26.85" lengthAdjust="spacingAndGlyphs">gEUD</text>
</svg></body></html>
